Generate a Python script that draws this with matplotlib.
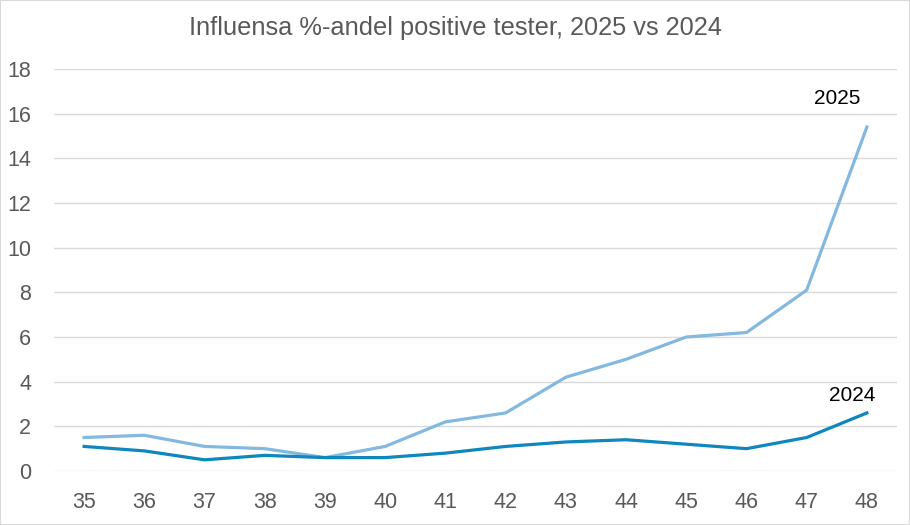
import matplotlib.pyplot as plt
from matplotlib.patches import Rectangle

plt.rcParams['font.family'] = ['Liberation Sans', 'DejaVu Sans']

weeks = ['35', '36', '37', '38', '39', '40', '41', '42', '43', '44', '45', '46', '47', '48']
pos_2025 = [1.5, 1.6, 1.1, 1.0, 0.6, 1.1, 2.2, 2.6, 4.2, 5.0, 6.0, 6.2, 8.1, 15.4]
pos_2024 = [1.1, 0.9, 0.5, 0.7, 0.6, 0.6, 0.8, 1.1, 1.3, 1.4, 1.2, 1.0, 1.5, 2.6]

grey = '#595959'

fig = plt.figure(figsize=(9.1, 5.25), dpi=100)
ax = fig.add_axes([54 / 910, 54 / 525, (897 - 54) / 910, (471 - 69) / 525])

x = list(range(len(weeks)))
ax.plot(x, pos_2025, color='#83B9E0', lw=2.3, solid_joinstyle='round', zorder=3)
ax.plot(x, pos_2024, color='#0E86BE', lw=2.3, solid_joinstyle='round', zorder=3)

ax.set_xlim(-0.5, len(weeks) - 0.5)
ax.set_ylim(0, 18)
ax.set_yticks(range(0, 19, 2))
ax.set_xticks(x)
ax.set_xticklabels(weeks)

ax.grid(axis='y', color='#D9D9D9', lw=1)
ax.set_axisbelow(True)
for s in ax.spines.values():
    s.set_visible(False)
ax.tick_params(length=0, labelsize=15.5, labelcolor=grey)
ax.tick_params(axis='y', pad=16.5)
ax.tick_params(axis='x', pad=15)

# series labels
ax.text(x[-1] - 0.5, pos_2025[-1] + 1.3, '2025', fontsize=15, ha='center', va='center', color='black')
ax.text(x[-1] - 0.25, pos_2024[-1] + 0.8, '2024', fontsize=15, ha='center', va='center', color='black')

fig.text(0.5, 1 - 28 / 525, 'Influensa %-andel positive tester, 2025 vs 2024',
         ha='center', va='center', fontsize=18.3, color=grey)

fig.patches.append(Rectangle((0, 0), 1, 1, transform=fig.transFigure, fill=False,
                             edgecolor='#D9D9D9', lw=1.5))

fig.savefig('out.png', dpi=100)
